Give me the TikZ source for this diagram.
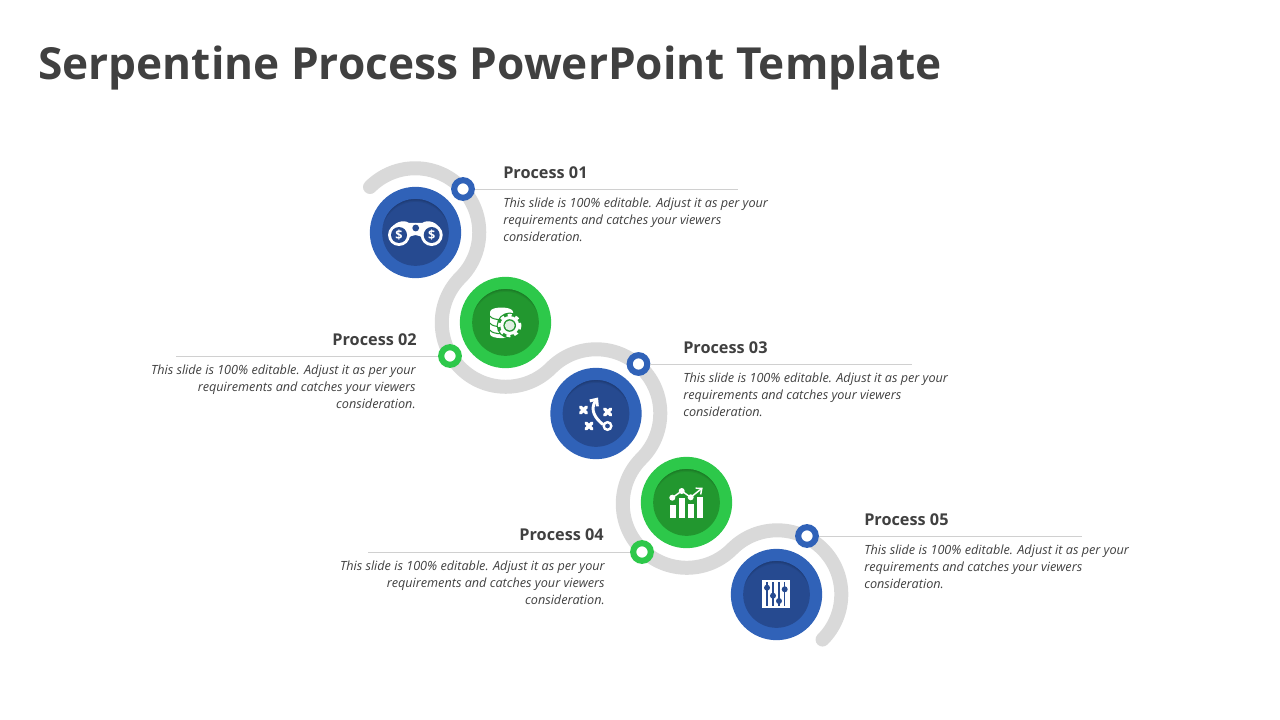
\documentclass[tikz,border=0pt]{standalone}
\usepackage{fontspec}
\setmainfont{Open Sans}
\usetikzlibrary{arrows.meta}

\definecolor{titlegray}{RGB}{64,64,64}
\definecolor{pathgray}{RGB}{217,217,217}
\definecolor{leadergray}{RGB}{208,208,208}
\definecolor{ringblue}{RGB}{48,98,184}
\definecolor{coreblue}{RGB}{38,74,144}
\definecolor{ringgreen}{RGB}{45,200,74}
\definecolor{coregreen}{RGB}{34,151,47}

\tikzset{
  stepring/.style={circle,inner sep=0pt,minimum size=68.5pt,fill=#1},
  stepcore/.style={circle,inner sep=0pt,minimum size=50pt,fill=#1,
    path picture={
      \fill[#1!93!black,even odd rule] (path picture bounding box.center) circle (26pt) ([yshift=-3pt]path picture bounding box.center) circle (26pt);
      \fill[#1!84!black,even odd rule] (path picture bounding box.center) circle (26pt) ([yshift=-2pt]path picture bounding box.center) circle (26pt);
      \fill[#1!74!black,even odd rule] (path picture bounding box.center) circle (26pt) ([yshift=-1pt]path picture bounding box.center) circle (26pt);
    }},
  stepdot/.style={circle,inner sep=0pt,minimum size=13.2pt,draw=#1,line width=4.6pt,fill=white},
  leader/.style={draw=leadergray,line width=0.6pt},
  heading/.style={inner sep=0pt,text=titlegray,font=\fontsize{12.2pt}{15pt}\selectfont\bfseries},
  bodyleft/.style={anchor=north west,inner sep=0pt,text=titlegray,align=left,font=\fontsize{9.5pt}{12.75pt}\selectfont\itshape},
  bodyright/.style={anchor=north east,inner sep=0pt,text=titlegray,align=right,font=\fontsize{9.5pt}{12.75pt}\selectfont\itshape},
}

\begin{document}
\begin{tikzpicture}[x=0.75pt,y=0.75pt,yscale=-1,xscale=1]
\useasboundingbox (0,0) rectangle (1280,720);

% Title
\node (title) [anchor=base west,inner sep=0pt,text=titlegray,font=\fontsize{33.15pt}{40pt}\selectfont\bfseries] at (38,80) {Serpentine Process PowerPoint Template};

% Serpentine
\draw [pathgray,line width=10.5pt,line cap=round] (370,187)
  arc [start angle=225,end angle=405,radius=64]
  arc [start angle=225,end angle=45,radius=64]
  arc [start angle=225,end angle=405,radius=64]
  arc [start angle=225,end angle=45,radius=64]
  arc [start angle=225,end angle=405,radius=64];

% Circles
\node (ring1) [stepring=ringblue] at (415.5,232.5) {};
\node (core1) [stepcore=coreblue] at (415.5,232.5) {};
\node (ring2) [stepring=ringgreen] at (505.5,322.5) {};
\node (core2) [stepcore=coregreen] at (505.5,322.5) {};
\node (ring3) [stepring=ringblue] at (596,413.5) {};
\node (core3) [stepcore=coreblue] at (596,413.5) {};
\node (ring4) [stepring=ringgreen] at (686.5,502.5) {};
\node (core4) [stepcore=coregreen] at (686.5,502.5) {};
\node (ring5) [stepring=ringblue] at (776.5,594.5) {};
\node (core5) [stepcore=coreblue] at (776.5,594.5) {};

% Small rings
\node (dot1) [stepdot=ringblue] at (463,189) {};
\node (dot2) [stepdot=ringgreen] at (450,356) {};
\node (dot3) [stepdot=ringblue] at (638.5,364) {};
\node (dot4) [stepdot=ringgreen] at (642,552) {};
\node (dot5) [stepdot=ringblue] at (807,536) {};

% Connection
\coordinate (end1) at (738,189);
\coordinate (end2) at (176,356);
\coordinate (end3) at (912,364);
\coordinate (end4) at (368,552);
\coordinate (end5) at (1082,536);
\draw [leader] (dot1) -- (end1);
\draw [leader] (dot2) -- (end2);
\draw [leader] (dot3) -- (end3);
\draw [leader] (dot4) -- (end4);
\draw [leader] (dot5) -- (end5);

% Text Node
\node (head1) [heading,anchor=west] at (503,173) {Process 01};
\node (body1) [bodyleft] at (503,197.5) {This slide is 100\% editable. Adjust it as per your\\requirements and catches your viewers\\consideration.};
\node (head2) [heading,anchor=east] at (417,340) {Process 02};
\node (body2) [bodyright] at (416,364.5) {This slide is 100\% editable. Adjust it as per your\\requirements and catches your viewers\\consideration.};
\node (head3) [heading,anchor=west] at (683,348) {Process 03};
\node (body3) [bodyleft] at (683,372.5) {This slide is 100\% editable. Adjust it as per your\\requirements and catches your viewers\\consideration.};
\node (head4) [heading,anchor=east] at (604,535) {Process 04};
\node (body4) [bodyright] at (605,560.5) {This slide is 100\% editable. Adjust it as per your\\requirements and catches your viewers\\consideration.};
\node (head5) [heading,anchor=west] at (864,520) {Process 05};
\node (body5) [bodyleft] at (864,544.5) {This slide is 100\% editable. Adjust it as per your\\requirements and catches your viewers\\consideration.};

% Icon: binoculars
\fill [white] (390,231) .. controls (393,222) and (404,219) .. (409,223) -- (422,223) .. controls (428,219) and (438,222) .. (441,231) -- (431,241) -- (424,239.5) .. controls (421,236.5) and (419,235) .. (415.5,235) .. controls (412,235) and (410,236.5) .. (407,239.5) -- (399,241) -- cycle;
\fill [white] (399,235) circle (11);
\fill [white] (431.7,235) circle (11);
\fill [coreblue] (399,235) circle (8);
\fill [coreblue] (431.7,235) circle (8);
\fill [coreblue] (415.7,228) circle (3.4);
\node (dollar1) [inner sep=0pt,text=white,font=\fontsize{9.5pt}{9.5pt}\selectfont\bfseries] at (399,235) {\$};
\node (dollar2) [inner sep=0pt,text=white,font=\fontsize{9.5pt}{9.5pt}\selectfont\bfseries] at (431.7,235) {\$};

% Icon: database and gear
\fill [white] (490,312) .. controls (490,306) and (513,306) .. (513,312) -- (513,334) .. controls (513,339.5) and (490,339.5) .. (490,334) -- cycle;
\draw [coregreen,line width=0.8pt] (490,316) .. controls (492,321) and (511,321) .. (513,316);
\draw [coregreen,line width=0.8pt] (490,323) .. controls (492,328) and (511,328) .. (513,323);
\draw [coregreen,line width=0.8pt] (490,330) .. controls (492,335) and (511,335) .. (513,330);
\fill [coregreen] (509.7,325.5) circle (13);
\fill [white] (509.7,325.5) circle (9.5);
\draw [white,line width=1.9pt,dash pattern=on 2.95pt off 2.95pt] (509.7,325.5) circle (10.5);
\fill [coregreen] (509.7,325.5) circle (6.3);
\fill [white!85!coregreen] (509.7,325.5) circle (5);

% Icon: play
\draw [white,line width=2.6pt,line cap=round] (580.5,407) -- (586.5,413) (586.5,407) -- (580.5,413);
\draw [white,line width=2.6pt,line cap=round] (604.7,409) -- (610.7,415) (610.7,409) -- (604.7,415);
\draw [white,line width=2.6pt,line cap=round] (586,423) -- (592,429) (592,423) -- (586,429);
\draw [white,line width=1.8pt] (607.5,426) circle (3.8);
\draw [white,line width=2.2pt,-{Straight Barb[length=4pt,width=7pt]}] (603,424.5) .. controls (596,419) and (589,410) .. (598,397.5);

% Icon: chart
\fill [white] (670,505) rectangle (676,517.7);
\fill [white] (679.3,497.7) rectangle (685.3,517.7);
\fill [white] (688.3,504) rectangle (694.3,517.7);
\fill [white] (697.3,497.3) rectangle (703.3,517.7);
\draw [white,line width=1.1pt,-{Straight Barb[length=3.5pt,width=6pt]}] (672.3,497.7) -- (681.7,491) -- (690.7,497.3) -- (702.7,487.7);
\fill [white] (672.3,497.7) circle (3);
\fill [white] (681.7,491) circle (3);
\fill [white] (690.7,497.3) circle (3);

% Icon: sliders
\fill [white] (762,580) rectangle (790,608);
\draw [coreblue,line width=0.9pt] (767,582) -- (767,606);
\draw [coreblue,line width=0.9pt] (773,582) -- (773,606);
\draw [coreblue,line width=0.9pt] (779,582) -- (779,606);
\draw [coreblue,line width=0.9pt] (784.7,582) -- (784.7,606);
\fill [coreblue] (767,587.7) circle (3);
\fill [coreblue] (773,595.7) circle (3);
\fill [coreblue] (779,601) circle (3);
\fill [coreblue] (784.7,589.3) circle (3);

\end{tikzpicture}
\end{document}
